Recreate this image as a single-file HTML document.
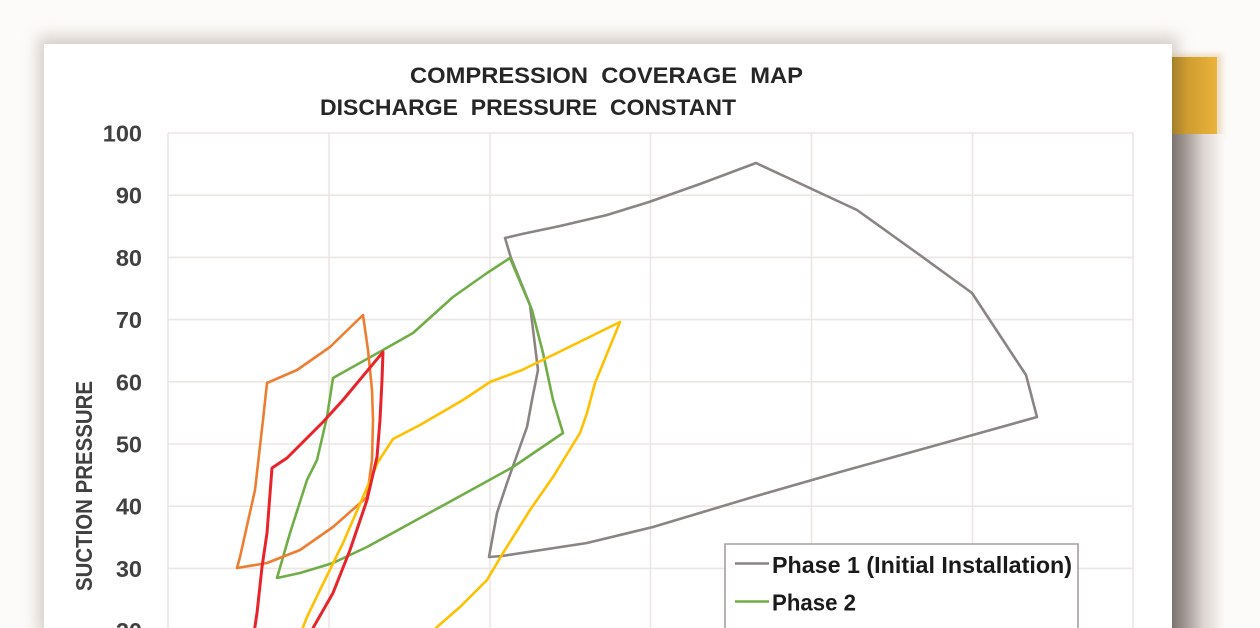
<!DOCTYPE html>
<html>
<head>
<meta charset="utf-8">
<style>
  html, body { margin: 0; padding: 0; background: #fdfbf9; }
  body { width: 1260px; height: 628px; overflow: hidden; }
  svg { display: block; }
  text { font-family: "Liberation Sans", "DejaVu Sans", sans-serif; font-weight: bold; }
</style>
</head>
<body>
<svg width="1260" height="628" viewBox="0 0 1260 628" xmlns="http://www.w3.org/2000/svg">
  <defs>
    <filter id="blur8" x="-10%" y="-10%" width="120%" height="120%">
      <feGaussianBlur stdDeviation="8"/>
    </filter>
    <filter id="blur3" x="-20%" y="-20%" width="140%" height="140%">
      <feGaussianBlur stdDeviation="3"/>
    </filter>
    <linearGradient id="gold" x1="0" y1="0" x2="1" y2="0">
      <stop offset="0" stop-color="#a57f2c"/>
      <stop offset="0.35" stop-color="#cf9d30"/>
      <stop offset="1" stop-color="#ebb33a"/>
    </linearGradient>
    <linearGradient id="grayBar" x1="0" y1="0" x2="1" y2="0">
      <stop offset="0" stop-color="#7c726e"/>
      <stop offset="0.25" stop-color="#a09793"/>
      <stop offset="0.6" stop-color="#dcd5d1"/>
      <stop offset="1" stop-color="#fbf9f7"/>
    </linearGradient>
    <clipPath id="frame"><rect x="0" y="0" width="1260" height="628"/></clipPath>
  </defs>

  <g clip-path="url(#frame)">
  <rect x="0" y="0" width="1260" height="628" fill="#fdfbf9"/>

  <rect x="38" y="36" width="1140" height="600" fill="#b3a9a2" opacity="0.55" filter="url(#blur8)"/>

  <rect x="1168" y="54" width="54" height="84" fill="#c9a35a" opacity="0.35" filter="url(#blur3)"/>
  <rect x="1172" y="134" width="52" height="494" fill="url(#grayBar)"/>
  <rect x="1172" y="57" width="45" height="77" fill="url(#gold)"/>

  <rect x="44" y="44" width="1128" height="584" fill="#ffffff"/>

  <g stroke="#ece6e2" stroke-width="1.6" fill="none">
    <line x1="168" y1="133" x2="1133" y2="133"/>
    <line x1="168" y1="195.2" x2="1133" y2="195.2"/>
    <line x1="168" y1="257.4" x2="1133" y2="257.4"/>
    <line x1="168" y1="319.6" x2="1133" y2="319.6"/>
    <line x1="168" y1="381.8" x2="1133" y2="381.8"/>
    <line x1="168" y1="444" x2="1133" y2="444"/>
    <line x1="168" y1="506.2" x2="1133" y2="506.2"/>
    <line x1="168" y1="568.4" x2="1133" y2="568.4"/>
    <line x1="168" y1="133" x2="168" y2="628"/>
    <line x1="329" y1="133" x2="329" y2="628"/>
    <line x1="490" y1="133" x2="490" y2="628"/>
    <line x1="650.5" y1="133" x2="650.5" y2="628"/>
    <line x1="811.5" y1="133" x2="811.5" y2="628"/>
    <line x1="972.5" y1="133" x2="972.5" y2="628"/>
    <line x1="1133" y1="133" x2="1133" y2="628"/>
  </g>

  <text x="410" y="83" font-size="22" fill="#262626" xml:space="preserve" textLength="393" lengthAdjust="spacingAndGlyphs">COMPRESSION  COVERAGE  MAP</text>
  <text x="320" y="115" font-size="22" fill="#262626" xml:space="preserve" textLength="416" lengthAdjust="spacingAndGlyphs">DISCHARGE  PRESSURE  CONSTANT</text>

  <g font-size="23.5" fill="#404040" text-anchor="end">
    <text x="142" y="141.5">100</text>
    <text x="142" y="203.7">90</text>
    <text x="142" y="265.9">80</text>
    <text x="142" y="328.1">70</text>
    <text x="142" y="390.3">60</text>
    <text x="142" y="452.5">50</text>
    <text x="142" y="514.7">40</text>
    <text x="142" y="576.9">30</text>
    <text x="142" y="639.1">20</text>
  </g>

  <text transform="translate(92,486) rotate(-90)" font-size="23" fill="#404040" text-anchor="middle" textLength="210" lengthAdjust="spacingAndGlyphs">SUCTION PRESSURE</text>

  <g fill="none" stroke-linejoin="round" stroke-linecap="round">
    <path stroke="#8a8482" stroke-width="2.6"
      d="M505,238 L522,234 L560,226 L607,215 L649,202 L700,184 L756,163 L857,210 L917,253 L972,293 L1026,375 L1037,417 L962,438 L840,472 L753,497 L653,527 L587,543 L502,556 L489,557 L497,513 L507,483 L527,427 L532,400 L538,370 L530,305 L511,258 Z"/>
    <path stroke="#70ad47" stroke-width="2.6"
      d="M510,258 L487,273 L453,297 L413,333 L383,350 L333,378 L327,417 L317,460 L307,480 L290,533 L277,578 L300,573 L333,563 L367,547 L420,518 L453,500 L513,467 L563,433 L553,400 L543,353 L532,310 Z"/>
    <path stroke="#ed7d31" stroke-width="2.6"
      d="M363,315 L330,347 L297,370 L267,383 L263,420 L255,490 L240,557 L237,568 L267,563 L300,550 L333,527 L367,497 L372,460 L373,420 L372,390 L368,350 Z"/>
    <path stroke="#ffc000" stroke-width="2.6"
      d="M620,322 L557,353 L522,370 L490,382 L463,400 L420,425 L393,439 L378,462 L363,497 L343,543 L320,590 L307,617 L300,635 M425,640 L437,627 L460,607 L487,580 L503,553 L530,510 L553,477 L580,433 L587,413 L595,383 L620,322"/>
    <path stroke="#e8242b" stroke-width="3"
      d="M253,640 L257,613 L262,567 L267,533 L272,468 L287,458 L323,422 L343,400 L383,352 L382,380 L380,420 L377,457 L367,500 L350,550 L333,593 L313,628 L306,642"/>
  </g>

  <rect x="725" y="544" width="353" height="84" fill="#ffffff"/>
  <path d="M725,628 L725,544 L1078,544 L1078,628" fill="none" stroke="#a5a09d" stroke-width="1.6"/>
  <line x1="735" y1="563.5" x2="769" y2="563.5" stroke="#8a8482" stroke-width="2.6"/>
  <text x="772" y="573" font-size="23" fill="#1a1a1a" textLength="300" lengthAdjust="spacingAndGlyphs">Phase 1 (Initial Installation)</text>
  <line x1="735" y1="601.5" x2="769" y2="601.5" stroke="#70ad47" stroke-width="2.6"/>
  <text x="772" y="610.5" font-size="23" fill="#1a1a1a" textLength="84" lengthAdjust="spacingAndGlyphs">Phase 2</text>
  </g>
</svg>
</body>
</html>
